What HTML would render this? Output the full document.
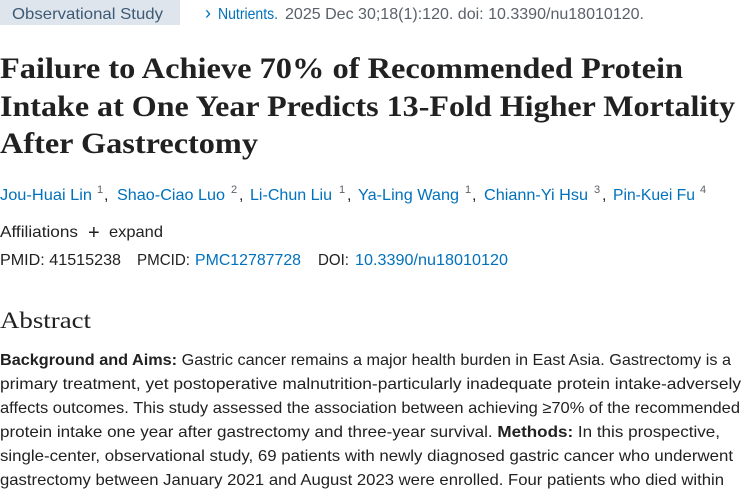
<!DOCTYPE html>
<html><head><meta charset="utf-8"><style>
html,body{margin:0;padding:0;background:#fff;width:750px;height:500px;overflow:hidden}
svg text{font-family:"Liberation Sans",sans-serif;font-size:16px;fill:#212121}
.s{font-family:"Liberation Serif",serif;font-weight:bold;font-size:30px;fill:#212121}
.b{fill:#0071bc}
.g{fill:#5b616b}
.sup{font-size:11px}
</style></head><body>
<svg width="750" height="500" xmlns="http://www.w3.org/2000/svg">
<rect x="0" y="0" width="180" height="25" fill="#dfe5ec"/>
<text x="12" y="19" style="fill:#3d5a75" textLength="151" lengthAdjust="spacingAndGlyphs">Observational Study</text>
<text x="205" y="19" class="b" style="font-size:18px">›</text>
<text x="218" y="19" class="b" textLength="60" lengthAdjust="spacingAndGlyphs" style="font-size:16px">Nutrients.</text>
<text x="285" y="19" class="g" textLength="359" lengthAdjust="spacingAndGlyphs">2025 Dec 30;18(1):120. doi: 10.3390/nu18010120.</text>

<text x="0" y="78" class="s" textLength="683" lengthAdjust="spacingAndGlyphs">Failure to Achieve 70% of Recommended Protein</text>
<text x="0" y="116" class="s" textLength="735" lengthAdjust="spacingAndGlyphs">Intake at One Year Predicts 13-Fold Higher Mortality</text>
<text x="0" y="153" class="s" textLength="258" lengthAdjust="spacingAndGlyphs">After Gastrectomy</text>

<text x="0" y="200" class="b" textLength="92" lengthAdjust="spacingAndGlyphs">Jou-Huai Lin</text><text x="97" y="193" class="g sup">1</text>
<text x="104" y="200">,</text><text x="117" y="200" class="b" textLength="108" lengthAdjust="spacingAndGlyphs">Shao-Ciao Luo</text><text x="231" y="193" class="g sup">2</text>
<text x="239" y="200">,</text><text x="250" y="200" class="b" textLength="82" lengthAdjust="spacingAndGlyphs">Li-Chun Liu</text><text x="339" y="193" class="g sup">1</text>
<text x="347" y="200">,</text><text x="358" y="200" class="b" textLength="101" lengthAdjust="spacingAndGlyphs">Ya-Ling Wang</text><text x="465" y="193" class="g sup">1</text>
<text x="472" y="200">,</text><text x="484" y="200" class="b" textLength="104" lengthAdjust="spacingAndGlyphs">Chiann-Yi Hsu</text><text x="594" y="193" class="g sup">3</text>
<text x="602" y="200">,</text><text x="613" y="200" class="b" textLength="82" lengthAdjust="spacingAndGlyphs">Pin-Kuei Fu</text><text x="700" y="193" class="g sup">4</text>

<text x="0" y="237" textLength="78" lengthAdjust="spacingAndGlyphs">Affiliations</text>
<text x="88" y="239" style="font-size:20px">+</text>
<text x="109" y="237" textLength="54" lengthAdjust="spacingAndGlyphs">expand</text>

<text x="0" y="265" textLength="121" lengthAdjust="spacingAndGlyphs">PMID: 41515238</text>
<text x="137" y="265" textLength="53" lengthAdjust="spacingAndGlyphs">PMCID:</text>
<text x="195" y="265" class="b" textLength="106" lengthAdjust="spacingAndGlyphs">PMC12787728</text>
<text x="318" y="265" textLength="31" lengthAdjust="spacingAndGlyphs">DOI:</text>
<text x="355" y="265" class="b" textLength="153" lengthAdjust="spacingAndGlyphs">10.3390/nu18010120</text>

<text x="0" y="328" style="font-family:'Liberation Serif',serif;font-size:23px" textLength="91" lengthAdjust="spacingAndGlyphs">Abstract</text>

<text x="0" y="365" textLength="731" lengthAdjust="spacingAndGlyphs"><tspan font-weight="bold">Background and Aims:</tspan> Gastric cancer remains a major health burden in East Asia. Gastrectomy is a</text>
<text x="0" y="389" textLength="741" lengthAdjust="spacingAndGlyphs">primary treatment, yet postoperative malnutrition-particularly inadequate protein intake-adversely</text>
<text x="0" y="413" textLength="740" lengthAdjust="spacingAndGlyphs">affects outcomes. This study assessed the association between achieving ≥70% of the recommended</text>
<text x="0" y="437" textLength="720" lengthAdjust="spacingAndGlyphs">protein intake one year after gastrectomy and three-year survival. <tspan font-weight="bold">Methods:</tspan> In this prospective,</text>
<text x="0" y="461" textLength="733" lengthAdjust="spacingAndGlyphs">single-center, observational study, 69 patients with newly diagnosed gastric cancer who underwent</text>
<text x="0" y="485" textLength="724" lengthAdjust="spacingAndGlyphs">gastrectomy between January 2021 and August 2023 were enrolled. Four patients who died within</text>
</svg>
</body></html>
